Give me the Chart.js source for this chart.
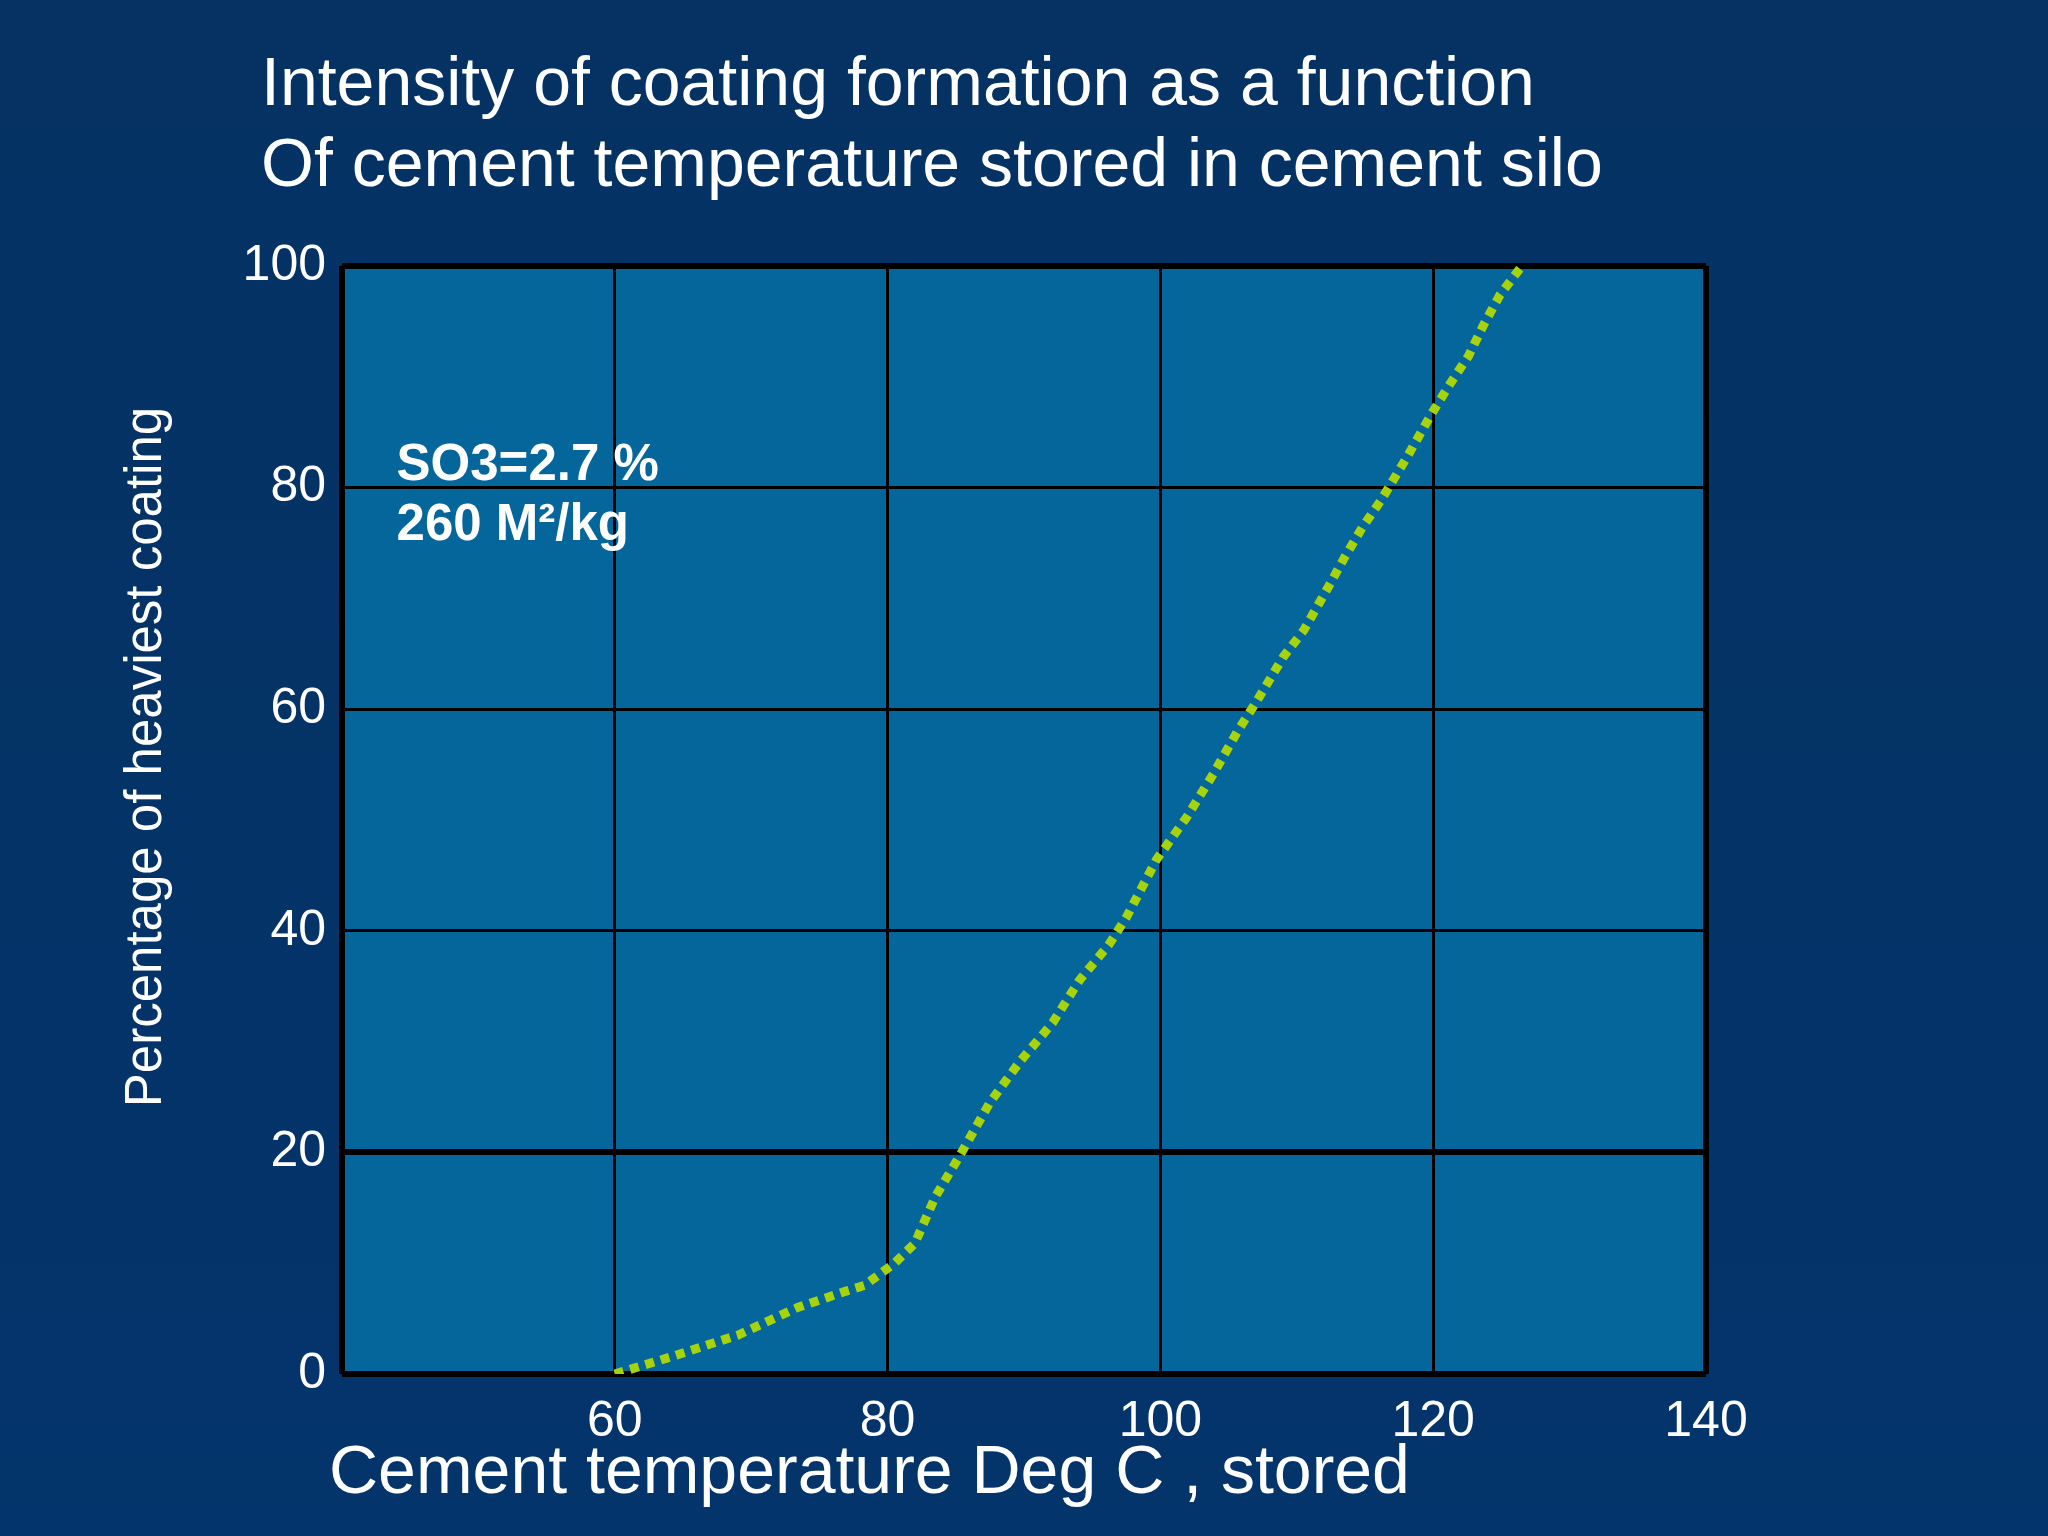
<!DOCTYPE html>
<html>
<head>
<meta charset="utf-8">
<script src="https://cdn.jsdelivr.net/npm/chart.js@4"></script>
<style>
  html, body { margin: 0; padding: 0; background: #04336a; }
  canvas { display: block; }
</style>
</head>
<body>
<canvas id="chart" width="2048" height="1536"></canvas>
<script>
// temperature (deg C) and coating (%)
const temps =   [60, 64, 69, 73.4, 77, 78.3, 80.5, 82, 83.5, 85.1, 87.5, 89.7, 92.1, 94.1, 96.2, 97.5, 99.7,
                 101.9, 103.9, 105.7, 107.1, 109, 110.5, 112.3, 113.5, 114.8, 116.2, 118.1, 119.9, 121.2,
                 122.6, 123.7, 124.9, 126.5];
const coating = [0, 1.5, 3.5, 6, 7.5, 8, 10, 11.8, 16, 19.3, 24.5, 28.2, 31.7, 35.6, 38.7, 41.2, 46.4,
                 50.2, 54.2, 58.1, 60.8, 64.7, 67.1, 71, 73.7, 76.4, 78.9, 82.8, 86.7, 89.3,
                 91.9, 94.7, 97.4, 100];

const xTicks = [40, 60, 80, 100, 120, 140];
const xTickLabels = ['', '60', '80', '100', '120', '140'];
const yTicks = [0, 20, 40, 60, 80, 100];
const yTickLabels = ['0', '20', '40', '60', '80', '100'];

const titleLines = ['Intensity of coating formation as a function', 'Of cement temperature stored in cement silo'];
const noteLines = ['SO3=2.7 %', '260 M\u00B2/kg'];
const xTitle = 'Cement temperature Deg C , stored';
const yTitle = 'Percentage of heaviest coating';

const FONT = '"Liberation Sans", Arial, sans-serif';

const backdrop = {
  id: 'backdrop',
  beforeDraw(chart) {
    const { ctx, chartArea: a } = chart;
    ctx.save();
    const g = ctx.createLinearGradient(0, 0, 0, chart.height);
    g.addColorStop(0, '#053263');
    g.addColorStop(1, '#03346b');
    ctx.fillStyle = g;
    ctx.fillRect(0, 0, chart.width, chart.height);
    ctx.fillStyle = '#04669a';
    ctx.fillRect(a.left, a.top, a.right - a.left, a.bottom - a.top);
    ctx.restore();
  },
  afterDraw(chart) {
    const { ctx, scales } = chart;
    ctx.save();
    ctx.fillStyle = '#ffffff';
    ctx.textBaseline = 'middle';
    ctx.textAlign = 'left';
    ctx.font = '68px ' + FONT;
    ctx.fillText(titleLines[0], 261, 86);
    ctx.fillText(titleLines[1], 261, 167);
    ctx.fillText(xTitle, 329, 1474);
    ctx.font = 'bold 51px ' + FONT;
    const nx = scales.x.getPixelForValue(44);
    ctx.fillText(noteLines[0], nx, scales.y.getPixelForValue(82));
    ctx.fillText(noteLines[1], nx, scales.y.getPixelForValue(76.5));
    ctx.translate(161, 757);
    ctx.rotate(-Math.PI / 2);
    ctx.font = '51px ' + FONT;
    ctx.textAlign = 'center';
    ctx.textBaseline = 'alphabetic';
    ctx.fillText(yTitle, 0, 0);
    ctx.restore();
  }
};

function gridWidth(edges) {
  return (c) => (c.tick && edges.includes(c.tick.value)) ? 6 : 3;
}

new Chart(document.getElementById('chart'), {
  type: 'scatter',
  data: {
    datasets: [{
      data: temps.map((t, i) => ({ x: t, y: coating[i] })),
      showLine: true,
      borderColor: '#a6d30c',
      borderWidth: 9,
      borderDash: [9, 7],
      borderCapStyle: 'butt',
      pointRadius: 0,
      tension: 0
    }]
  },
  options: {
    responsive: false,
    animation: false,
    layout: { padding: { left: 120, right: 342, top: 266, bottom: 26 } },
    plugins: { legend: { display: false }, tooltip: { enabled: false } },
    scales: {
      x: {
        type: 'linear',
        min: 40, max: 140,
        afterFit: (s) => { s.height = 136; },
        afterBuildTicks: (s) => { s.ticks = xTicks.map(v => ({ value: v })); },
        border: { display: false },
        grid: { color: '#000000', lineWidth: gridWidth([40, 140]), drawTicks: false },
        ticks: {
          color: '#ffffff', padding: 18, font: { family: FONT, size: 50 },
          maxRotation: 0, autoSkip: false,
          callback: (v) => xTickLabels[xTicks.indexOf(v)]
        }
      },
      y: {
        min: 0, max: 100,
        afterFit: (s) => { s.width = 222; },
        afterBuildTicks: (s) => { s.ticks = yTicks.map(v => ({ value: v })); },
        border: { display: false },
        grid: { color: '#000000', lineWidth: gridWidth([0, 20, 100]), drawTicks: false },
        ticks: {
          color: '#ffffff', padding: 16, font: { family: FONT, size: 50 },
          callback: (v) => yTickLabels[yTicks.indexOf(v)]
        }
      }
    }
  },
  plugins: [backdrop]
});
</script>
</body>
</html>
